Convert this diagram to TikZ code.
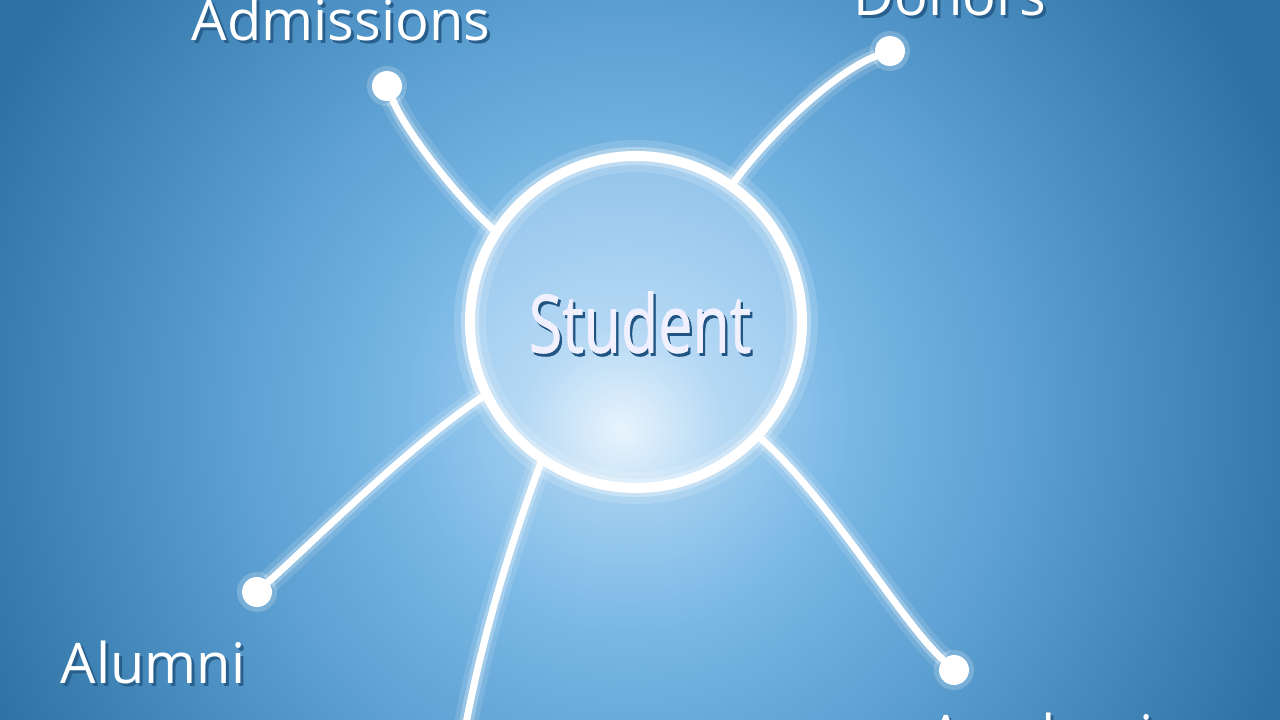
\documentclass[tikz,border=0pt]{standalone}
\usepackage{fontspec}
\newfontfamily\labelfont{Open Sans}
\newfontfamily\hubfont{Open Sans}[FakeBold=1.2]
\usetikzlibrary{positioning}

\definecolor{bgedge}{RGB}{46,114,164}
\definecolor{bgmidb}{RGB}{84,152,203}
\definecolor{bgmida}{RGB}{120,183,229}
\definecolor{bglight}{RGB}{165,208,240}
\definecolor{bgcore}{RGB}{228,242,252}
\definecolor{hubedge}{RGB}{150,198,236}
\definecolor{hubmid}{RGB}{180,216,244}
\definecolor{hubcore}{RGB}{232,244,253}
\definecolor{txtshadow}{RGB}{32,84,130}
\definecolor{lblshadow}{RGB}{40,95,140}

\pgfdeclareradialshading{backglow}{\pgfpoint{0bp}{0bp}}{%
  color(0bp)=(bgcore); color(2.5bp)=(bglight); color(7bp)=(bgmida);
  color(14bp)=(bgmidb); color(22bp)=(bgedge); color(25bp)=(bgedge)}
\pgfdeclareradialshading{hubglow}{\pgfpoint{0bp}{0bp}}{%
  color(0bp)=(hubcore); color(8bp)=(hubmid); color(20bp)=(hubedge); color(25bp)=(hubedge)}

\newcommand{\shadowed}[2][txtshadow]{\rlap{\kern3pt\raisebox{-3pt}{\textcolor{#1}{#2}}}#2}

\tikzset{
  wire/.style={draw=white, line width=7, line cap=round,
    preaction={draw=white, opacity=.12, line width=24},
    preaction={draw=white, opacity=.25, line width=14}},
  hub/.style={circle, draw=white, line width=10, minimum size=332, inner sep=0,
    preaction={draw=white, opacity=.15, line width=32},
    preaction={draw=white, opacity=.3, line width=18}},
  dot/.style={circle, fill=white, minimum size=30, inner sep=0,
    preaction={draw=white, opacity=.2, line width=10}},
  lbl/.style={text=white, font=\labelfont\fontsize{56}{60}\selectfont, inner sep=0, anchor=base}
}

\begin{document}
\begin{tikzpicture}[x=1pt, y=-1pt]
  \useasboundingbox (0,0) rectangle (1280,720);
  \clip (0,0) rectangle (1280,720);
  \shade[shading=backglow] (628,410) circle (800);
  \begin{scope}
    \clip (636,322) circle (166);
    \shade[shading=hubglow] (622,430) circle (320);
  \end{scope}

  % centre
  \node[hub] (student) at (636,322) {};
  \node[text=white!94!blue, inner sep=0, font=\hubfont\fontsize{80}{90}\selectfont]
    (name) at (640,324) {\scalebox{0.76}[1]{\shadowed{Student}}};

  % end points
  \node[dot] (adm) at (387,86) {};
  \node[dot] (don) at (890,51) {};
  \node[dot] (alu) at (257,592) {};
  \node[dot] (aca) at (954,670) {};
  \coordinate (low) at (458,770);

  \draw[wire] (student.147) .. controls (455,195) and (405,130) .. (adm);
  \draw[wire] (student.55) .. controls (770,133) and (836,71) .. (don);
  \draw[wire] (student.206) .. controls (410,445) and (315,540) .. (alu);
  \draw[wire] (student.236) .. controls (505,560) and (475,660) .. (low);
  \draw[wire] (student.317) .. controls (830,500) and (900,620) .. (aca);

  % labels
  \node[lbl] (admlbl) at (341,40) {\shadowed[lblshadow]{Admissions}};
  \node[lbl] (donlbl) at (950,15) {\shadowed[lblshadow]{Donors}};
  \node[lbl] (alulbl) at (153,683) {\shadowed[lblshadow]{Alumni}};
  \node[lbl, anchor=base west] (acalbl) at (928,755) {\shadowed[lblshadow]{Academics}};
\end{tikzpicture}
\end{document}
